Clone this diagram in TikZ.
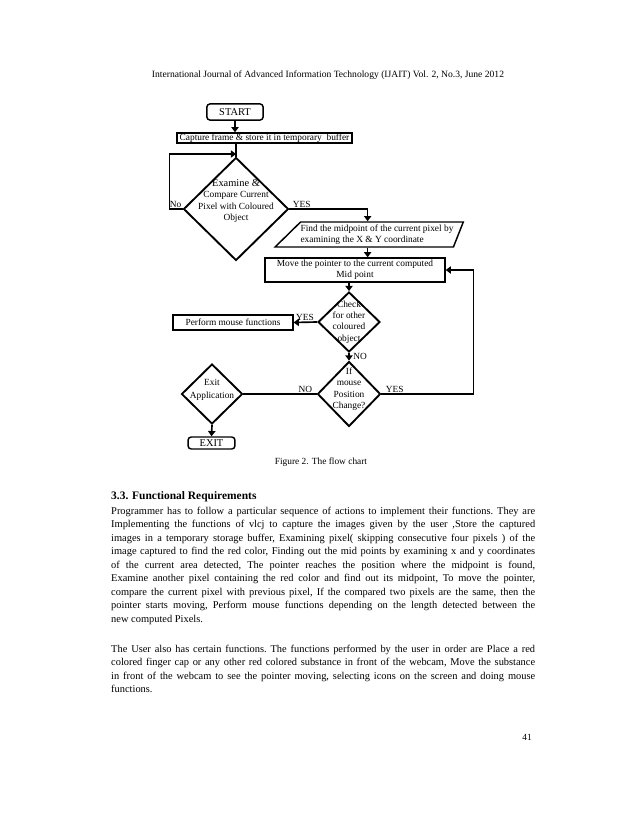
\documentclass[tikz,border=0pt]{standalone}
\usepackage{fontspec}
\setmainfont{Liberation Serif}
\usetikzlibrary{shapes.geometric,arrows.meta}

\begin{document}
\begin{tikzpicture}[
	x=0.96pt, y=-0.96pt,
	>={Triangle[length=5pt,width=7pt]},
	flow/.style = {
		font=\fontsize{9}{11}\selectfont,
		line width=1.4pt,
		inner sep=1pt,
	},
	box/.style = {flow, draw, rectangle, align=center},
	term/.style = {box, rounded corners=3pt, font=\fontsize{10}{11}\selectfont},
	decision/.style = {flow, draw, diamond, line width=1.8pt, inner sep=0pt},
	inside/.style = {flow, align=center},
	tag/.style = {flow, inner sep=0.5pt},
	link/.style = {line width=1.6pt},
	page/.style = {
		anchor=north west,
		inner sep=0pt,
		text width=407pt,
		align=justify,
		font=\fontsize{10}{12.9}\selectfont,
		execute at begin node={\frenchspacing\spaceskip=0.25em plus 0.5em minus 0.1em\relax\hyphenpenalty=10000\relax},
	},
]

\fill [white] (0,0) rectangle (638,826);
\useasboundingbox (0,0) rectangle (638,826);

\node [font=\fontsize{9.2}{11}\selectfont] (header) at (328,75)
	{International Journal of Advanced Information Technology (IJAIT) Vol. 2, No.3, June 2012};

% Flow chart starts here
\node [term, minimum width=54pt, minimum height=15.5pt] (start) at (235,112) {START};

\node [box, minimum width=168pt, minimum height=9.6pt, inner sep=0pt] (capture) at (264.5,138)
	{Capture frame \& store it in temporary\ \ buffer};

% first decision
\node [decision, minimum width=100.8pt, minimum height=98.9pt] (examine) at (236,209) {};
\node [inside] (examinetext) at (236,201)
	{{\fontsize{10}{11}\selectfont Examine \&}\\Compare Current\\Pixel with Coloured\\Object};

% midpoint box
\node [
	flow, draw, trapezium,
	trapezium left angle=41,
	trapezium right angle=114,
	trapezium stretches body,
	align=left,
	inner xsep=0pt,
	minimum height=24pt,
] (find) at (377,234.5) {Find the midpoint of the current pixel by\\examining the X \& Y coordinate};

\node [box, minimum width=172.8pt, minimum height=23pt] (move) at (355,270)
	{Move the pointer to the current computed\\Mid point};

% second decision
\node [decision, minimum width=59.5pt, minimum height=57.6pt] (check) at (349,322) {};
\node [inside] (checktext) at (349,322) {Check\\for other\\coloured\\object};

\node [box, minimum width=115pt, minimum height=14.4pt] (perform) at (233,322.5) {Perform mouse functions};

% third decision
\node [decision, minimum width=60.5pt, minimum height=62.4pt] (mouse) at (349,394) {};
\node [inside] (mousetext) at (349,389) {If\\mouse\\Position\\Change?};

\node [decision, minimum width=58.6pt, minimum height=57.6pt] (exitapp) at (212,394) {};
\node [inside, font=\fontsize{9}{13}\selectfont] (exitapptext) at (212,390) {Exit\\Application};

\node [term, minimum width=45pt, minimum height=11.5pt, inner sep=0pt] (exit) at (211.5,443) {EXIT};
% Flow chart ends here

% Connections
\coordinate (loopin) at (236,154);
\draw [link, ->] (start) -- (start |- capture.north);
\draw [link] (examine.north |- capture.south) -- (examine.north);
\draw [link, ->] (examine.west) -- node [tag, pos=0, anchor=south east] (no1) {No} ++(-13,0) |- (loopin);
\draw [link, ->] (examine.east) -| node [tag, pos=0, anchor=south west, xshift=2pt] (yes1) {YES} ([xshift=-9pt]find.north);
\draw [link, ->] ([xshift=-9pt]find.south) -- ([xshift=-9pt]find.south |- move.north);
\draw [link, ->] (check.north |- move.south) -- (check.north);
\draw [link, ->] (check.west) -- node [tag, pos=0, anchor=south east, xshift=-2pt] (yes2) {YES} (perform.east);
\draw [link, ->] (check.south) -- node [tag, right, xshift=3pt] (no2) {NO} (mouse.north);
\draw [link] (mouse.west) -- node [tag, pos=0, anchor=south east, xshift=-3pt] (no3) {NO} (exitapp.east);
\draw [link, ->] (mouse.east) -- node [tag, pos=0, anchor=south west, xshift=3pt] (yes3) {YES} ++(92,0) |- (move.east);
\draw [link, ->] (exitapp.south) -- (exit.north);

\node [font=\fontsize{9}{11}\selectfont] (caption) at (321,462) {Figure 2. The flow chart};

% Text below the figure
\node [anchor=west, inner sep=0pt, font=\fontsize{11}{13}\selectfont\bfseries] (heading) at (111,497)
	{3.3. Functional Requirements};

\node [page] (para1) at (111,507) {Programmer has to follow a particular sequence of actions to implement their functions. They are\linebreak
Implementing the functions of vlcj to capture the images given by the user ,Store the captured\linebreak
images in a temporary storage buffer, Examining pixel( skipping consecutive four pixels ) of the\linebreak
image captured to find the red color, Finding out the mid points by examining x and y coordinates\linebreak
of the current area detected, The pointer reaches the position where the midpoint is found,\linebreak
Examine another pixel containing the red color and find out its midpoint, To move the pointer,\linebreak
compare the current pixel with previous pixel, If the compared two pixels are the same, then the\linebreak
pointer starts moving, Perform mouse functions depending on the length detected between the\linebreak
new computed Pixels.};

\node [page] (para2) at (111,645) {The User also has certain functions. The functions performed by the user in order are Place a red\linebreak
colored finger cap or any other red colored substance in front of the webcam, Move the substance\linebreak
in front of the webcam to see the pointer moving, selecting icons on the screen and doing mouse\linebreak
functions.};

\node [font=\fontsize{9}{11}\selectfont] (pagenum) at (527,737) {41};

\end{tikzpicture}
\end{document}
